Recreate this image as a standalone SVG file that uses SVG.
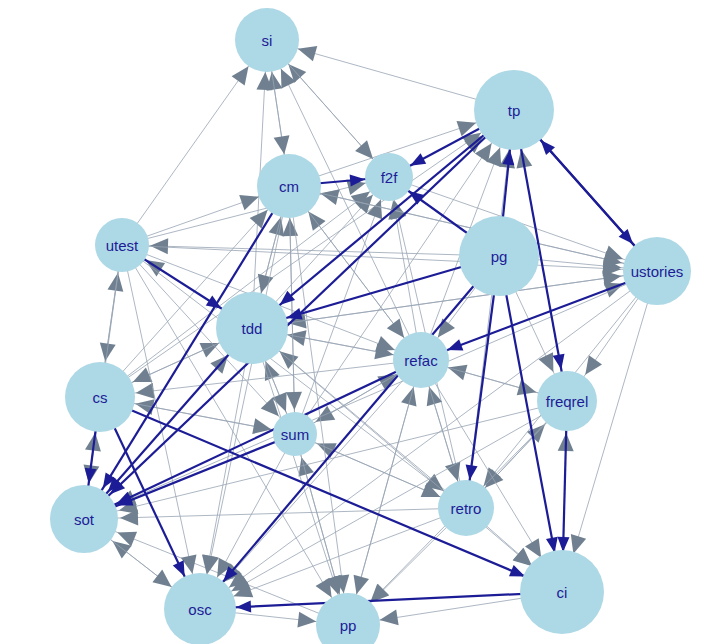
<svg xmlns="http://www.w3.org/2000/svg" width="710" height="644" viewBox="0 0 710 644">
<style>
.g{stroke:#98a4b4;stroke-width:0.8;fill:none}
.b{stroke:#1c1c96;stroke-width:2.2;fill:none}
.n{fill:#add8e6}
.t{font-family:"Liberation Sans",Arial,sans-serif;font-size:15px;fill:#1c1c96;text-anchor:middle;dominant-baseline:central}
</style>
<defs>
<marker id="g24" markerUnits="userSpaceOnUse" orient="auto" refX="42" refY="0" overflow="visible"><path d="M0,-8 L18,0 L0,8 z" fill="#708090"/></marker>
<marker id="g28" markerUnits="userSpaceOnUse" orient="auto" refX="46" refY="0" overflow="visible"><path d="M0,-8 L18,0 L0,8 z" fill="#708090"/></marker>
<marker id="g32" markerUnits="userSpaceOnUse" orient="auto" refX="50" refY="0" overflow="visible"><path d="M0,-8 L18,0 L0,8 z" fill="#708090"/></marker>
<marker id="g36" markerUnits="userSpaceOnUse" orient="auto" refX="54" refY="0" overflow="visible"><path d="M0,-8 L18,0 L0,8 z" fill="#708090"/></marker>
<marker id="g40" markerUnits="userSpaceOnUse" orient="auto" refX="58" refY="0" overflow="visible"><path d="M0,-8 L18,0 L0,8 z" fill="#708090"/></marker>
<marker id="b24" markerUnits="userSpaceOnUse" orient="auto" refX="39" refY="0" overflow="visible"><path d="M0,-6 L15,0 L0,6 z" fill="#1c1c96"/></marker>
<marker id="b28" markerUnits="userSpaceOnUse" orient="auto" refX="43" refY="0" overflow="visible"><path d="M0,-6 L15,0 L0,6 z" fill="#1c1c96"/></marker>
<marker id="b32" markerUnits="userSpaceOnUse" orient="auto" refX="47" refY="0" overflow="visible"><path d="M0,-6 L15,0 L0,6 z" fill="#1c1c96"/></marker>
<marker id="b36" markerUnits="userSpaceOnUse" orient="auto" refX="51" refY="0" overflow="visible"><path d="M0,-6 L15,0 L0,6 z" fill="#1c1c96"/></marker>
<marker id="b40" markerUnits="userSpaceOnUse" orient="auto" refX="55" refY="0" overflow="visible"><path d="M0,-6 L15,0 L0,6 z" fill="#1c1c96"/></marker>
</defs>
<rect width="710" height="644" fill="#fff"/>
<g id="connectors">
<!-- grey -->
<line class="g" x1="289" y1="186" x2="267" y2="40" marker-end="url(#g32)"/>
<line class="g" x1="389" y1="177" x2="267" y2="40" marker-end="url(#g32)"/>
<line class="g" x1="514" y1="110" x2="267" y2="40" marker-end="url(#g32)"/>
<line class="g" x1="122" y1="245" x2="267" y2="40" marker-end="url(#g32)"/>
<line class="g" x1="252" y1="328" x2="267" y2="40" marker-end="url(#g32)"/>
<line class="g" x1="421" y1="360" x2="267" y2="40" marker-end="url(#g32)"/>
<line class="g" x1="267" y1="40" x2="289" y2="186" marker-end="url(#g32)"/>
<line class="g" x1="267" y1="40" x2="389" y2="177" marker-end="url(#g24)"/>
<line class="g" x1="289" y1="186" x2="514" y2="110" marker-end="url(#g40)"/>
<line class="g" x1="421" y1="360" x2="514" y2="110" marker-end="url(#g40)"/>
<line class="g" x1="252" y1="328" x2="514" y2="110" marker-end="url(#g40)"/>
<line class="g" x1="295" y1="434" x2="514" y2="110" marker-end="url(#g40)"/>
<line class="g" x1="466" y1="508" x2="514" y2="110" marker-end="url(#g40)"/>
<line class="g" x1="567" y1="401" x2="514" y2="110" marker-end="url(#g40)"/>
<line class="g" x1="100" y1="397" x2="514" y2="110" marker-end="url(#g40)"/>
<line class="g" x1="122" y1="245" x2="389" y2="177" marker-end="url(#g24)"/>
<line class="g" x1="252" y1="328" x2="389" y2="177" marker-end="url(#g24)"/>
<line class="g" x1="421" y1="360" x2="389" y2="177" marker-end="url(#g24)"/>
<line class="g" x1="295" y1="434" x2="389" y2="177" marker-end="url(#g24)"/>
<line class="g" x1="466" y1="508" x2="389" y2="177" marker-end="url(#g24)"/>
<line class="g" x1="100" y1="397" x2="389" y2="177" marker-end="url(#g24)"/>
<line class="g" x1="122" y1="245" x2="289" y2="186" marker-end="url(#g32)"/>
<line class="g" x1="252" y1="328" x2="289" y2="186" marker-end="url(#g32)"/>
<line class="g" x1="421" y1="360" x2="289" y2="186" marker-end="url(#g32)"/>
<line class="g" x1="295" y1="434" x2="289" y2="186" marker-end="url(#g32)"/>
<line class="g" x1="100" y1="397" x2="289" y2="186" marker-end="url(#g32)"/>
<line class="g" x1="657" y1="271" x2="289" y2="186" marker-end="url(#g32)"/>
<line class="g" x1="100" y1="397" x2="122" y2="245" marker-end="url(#g28)"/>
<line class="g" x1="252" y1="328" x2="122" y2="245" marker-end="url(#g28)"/>
<line class="g" x1="499" y1="256" x2="122" y2="245" marker-end="url(#g28)"/>
<line class="g" x1="289" y1="186" x2="252" y2="328" marker-end="url(#g36)"/>
<line class="g" x1="421" y1="360" x2="252" y2="328" marker-end="url(#g36)"/>
<line class="g" x1="295" y1="434" x2="252" y2="328" marker-end="url(#g36)"/>
<line class="g" x1="100" y1="397" x2="252" y2="328" marker-end="url(#g36)"/>
<line class="g" x1="466" y1="508" x2="252" y2="328" marker-end="url(#g36)"/>
<line class="g" x1="657" y1="271" x2="252" y2="328" marker-end="url(#g36)"/>
<line class="g" x1="84" y1="519" x2="252" y2="328" marker-end="url(#g36)"/>
<line class="g" x1="289" y1="186" x2="421" y2="360" marker-end="url(#g28)"/>
<line class="g" x1="252" y1="328" x2="421" y2="360" marker-end="url(#g28)"/>
<line class="g" x1="567" y1="401" x2="421" y2="360" marker-end="url(#g28)"/>
<line class="g" x1="466" y1="508" x2="421" y2="360" marker-end="url(#g28)"/>
<line class="g" x1="295" y1="434" x2="421" y2="360" marker-end="url(#g28)"/>
<line class="g" x1="348" y1="625" x2="421" y2="360" marker-end="url(#g28)"/>
<line class="g" x1="122" y1="245" x2="421" y2="360" marker-end="url(#g28)"/>
<line class="g" x1="499" y1="256" x2="421" y2="360" marker-end="url(#g28)"/>
<line class="g" x1="122" y1="245" x2="657" y2="271" marker-end="url(#g36)"/>
<line class="g" x1="289" y1="186" x2="657" y2="271" marker-end="url(#g36)"/>
<line class="g" x1="389" y1="177" x2="657" y2="271" marker-end="url(#g36)"/>
<line class="g" x1="499" y1="256" x2="657" y2="271" marker-end="url(#g36)"/>
<line class="g" x1="421" y1="360" x2="657" y2="271" marker-end="url(#g36)"/>
<line class="g" x1="252" y1="328" x2="657" y2="271" marker-end="url(#g36)"/>
<line class="g" x1="657" y1="271" x2="567" y2="401" marker-end="url(#g32)"/>
<line class="g" x1="466" y1="508" x2="567" y2="401" marker-end="url(#g32)"/>
<line class="g" x1="421" y1="360" x2="567" y2="401" marker-end="url(#g32)"/>
<line class="g" x1="562" y1="592" x2="567" y2="401" marker-end="url(#g32)"/>
<line class="g" x1="499" y1="256" x2="567" y2="401" marker-end="url(#g32)"/>
<line class="g" x1="122" y1="245" x2="100" y2="397" marker-end="url(#g36)"/>
<line class="g" x1="252" y1="328" x2="100" y2="397" marker-end="url(#g36)"/>
<line class="g" x1="421" y1="360" x2="100" y2="397" marker-end="url(#g36)"/>
<line class="g" x1="295" y1="434" x2="100" y2="397" marker-end="url(#g36)"/>
<line class="g" x1="84" y1="519" x2="100" y2="397" marker-end="url(#g36)"/>
<line class="g" x1="252" y1="328" x2="295" y2="434" marker-end="url(#g24)"/>
<line class="g" x1="289" y1="186" x2="295" y2="434" marker-end="url(#g24)"/>
<line class="g" x1="100" y1="397" x2="295" y2="434" marker-end="url(#g24)"/>
<line class="g" x1="421" y1="360" x2="295" y2="434" marker-end="url(#g24)"/>
<line class="g" x1="466" y1="508" x2="295" y2="434" marker-end="url(#g24)"/>
<line class="g" x1="122" y1="245" x2="295" y2="434" marker-end="url(#g24)"/>
<line class="g" x1="348" y1="625" x2="295" y2="434" marker-end="url(#g24)"/>
<line class="g" x1="122" y1="245" x2="84" y2="519" marker-end="url(#g36)"/>
<line class="g" x1="200" y1="609" x2="84" y2="519" marker-end="url(#g36)"/>
<line class="g" x1="348" y1="625" x2="84" y2="519" marker-end="url(#g36)"/>
<line class="g" x1="466" y1="508" x2="84" y2="519" marker-end="url(#g36)"/>
<line class="g" x1="567" y1="401" x2="84" y2="519" marker-end="url(#g36)"/>
<line class="g" x1="657" y1="271" x2="84" y2="519" marker-end="url(#g36)"/>
<line class="g" x1="657" y1="271" x2="466" y2="508" marker-end="url(#g28)"/>
<line class="g" x1="567" y1="401" x2="466" y2="508" marker-end="url(#g28)"/>
<line class="g" x1="421" y1="360" x2="466" y2="508" marker-end="url(#g28)"/>
<line class="g" x1="122" y1="245" x2="466" y2="508" marker-end="url(#g28)"/>
<line class="g" x1="295" y1="434" x2="466" y2="508" marker-end="url(#g28)"/>
<line class="g" x1="466" y1="508" x2="562" y2="592" marker-end="url(#g40)"/>
<line class="g" x1="657" y1="271" x2="562" y2="592" marker-end="url(#g40)"/>
<line class="g" x1="421" y1="360" x2="562" y2="592" marker-end="url(#g40)"/>
<line class="g" x1="252" y1="328" x2="562" y2="592" marker-end="url(#g40)"/>
<line class="g" x1="84" y1="519" x2="200" y2="609" marker-end="url(#g36)"/>
<line class="g" x1="252" y1="328" x2="200" y2="609" marker-end="url(#g36)"/>
<line class="g" x1="295" y1="434" x2="200" y2="609" marker-end="url(#g36)"/>
<line class="g" x1="421" y1="360" x2="200" y2="609" marker-end="url(#g36)"/>
<line class="g" x1="289" y1="186" x2="200" y2="609" marker-end="url(#g36)"/>
<line class="g" x1="466" y1="508" x2="200" y2="609" marker-end="url(#g36)"/>
<line class="g" x1="122" y1="245" x2="200" y2="609" marker-end="url(#g36)"/>
<line class="g" x1="567" y1="401" x2="200" y2="609" marker-end="url(#g36)"/>
<line class="g" x1="657" y1="271" x2="200" y2="609" marker-end="url(#g36)"/>
<line class="g" x1="200" y1="609" x2="348" y2="625" marker-end="url(#g32)"/>
<line class="g" x1="295" y1="434" x2="348" y2="625" marker-end="url(#g32)"/>
<line class="g" x1="466" y1="508" x2="348" y2="625" marker-end="url(#g32)"/>
<line class="g" x1="252" y1="328" x2="348" y2="625" marker-end="url(#g32)"/>
<line class="g" x1="421" y1="360" x2="348" y2="625" marker-end="url(#g32)"/>
<line class="g" x1="289" y1="186" x2="348" y2="625" marker-end="url(#g32)"/>
<line class="g" x1="562" y1="592" x2="348" y2="625" marker-end="url(#g32)"/>
<line class="g" x1="567" y1="401" x2="348" y2="625" marker-end="url(#g32)"/>
<line class="g" x1="122" y1="245" x2="348" y2="625" marker-end="url(#g32)"/>
<!-- blue -->
<line class="b" x1="289" y1="186" x2="389" y2="177" marker-end="url(#b24)"/>
<line class="b" x1="514" y1="110" x2="389" y2="177" marker-end="url(#b24)"/>
<line class="b" x1="499" y1="256" x2="389" y2="177" marker-end="url(#b24)"/>
<line class="b" x1="499" y1="256" x2="514" y2="110" marker-end="url(#b40)"/>
<line class="b" x1="514" y1="110" x2="657" y2="271" marker-end="url(#b36)"/>
<line class="b" x1="657" y1="271" x2="514" y2="110" marker-end="url(#b40)"/>
<line class="b" x1="122" y1="245" x2="252" y2="328" marker-end="url(#b36)"/>
<line class="b" x1="499" y1="256" x2="252" y2="328" marker-end="url(#b36)"/>
<line class="b" x1="514" y1="110" x2="252" y2="328" marker-end="url(#b36)"/>
<line class="b" x1="289" y1="186" x2="84" y2="519" marker-end="url(#b36)"/>
<line class="b" x1="514" y1="110" x2="84" y2="519" marker-end="url(#b36)"/>
<line class="b" x1="252" y1="328" x2="84" y2="519" marker-end="url(#b36)"/>
<line class="b" x1="421" y1="360" x2="84" y2="519" marker-end="url(#b36)"/>
<line class="b" x1="100" y1="397" x2="84" y2="519" marker-end="url(#b36)"/>
<line class="b" x1="295" y1="434" x2="84" y2="519" marker-end="url(#b36)"/>
<line class="b" x1="499" y1="256" x2="466" y2="508" marker-end="url(#b28)"/>
<line class="b" x1="499" y1="256" x2="562" y2="592" marker-end="url(#b40)"/>
<line class="b" x1="514" y1="110" x2="567" y2="401" marker-end="url(#b32)"/>
<line class="b" x1="567" y1="401" x2="562" y2="592" marker-end="url(#b40)"/>
<line class="b" x1="100" y1="397" x2="200" y2="609" marker-end="url(#b36)"/>
<line class="b" x1="562" y1="592" x2="200" y2="609" marker-end="url(#b36)"/>
<line class="b" x1="100" y1="397" x2="562" y2="592" marker-end="url(#b40)"/>
<line class="b" x1="499" y1="256" x2="200" y2="609" marker-end="url(#b36)"/>
<line class="b" x1="657" y1="271" x2="421" y2="360" marker-end="url(#b28)"/>
</g>
<g id="si"><circle class="n" cx="267" cy="40" r="32"/><text class="t" x="267" y="40">si</text></g>
<g id="tp"><circle class="n" cx="514" cy="110" r="40"/><text class="t" x="514" y="110">tp</text></g>
<g id="f2f"><circle class="n" cx="389" cy="177" r="24"/><text class="t" x="389" y="177">f2f</text></g>
<g id="cm"><circle class="n" cx="289" cy="186" r="32"/><text class="t" x="289" y="186">cm</text></g>
<g id="pg"><circle class="n" cx="499" cy="256" r="40"/><text class="t" x="499" y="256">pg</text></g>
<g id="ustories"><circle class="n" cx="657" cy="271" r="34"/><text class="t" x="657" y="271">ustories</text></g>
<g id="utest"><circle class="n" cx="122" cy="245" r="27"/><text class="t" x="122" y="245">utest</text></g>
<g id="tdd"><circle class="n" cx="252" cy="328" r="36"/><text class="t" x="252" y="328">tdd</text></g>
<g id="refac"><circle class="n" cx="421" cy="360" r="28"/><text class="t" x="421" y="360">refac</text></g>
<g id="cs"><circle class="n" cx="100" cy="397" r="35"/><text class="t" x="100" y="397">cs</text></g>
<g id="freqrel"><circle class="n" cx="567" cy="401" r="30"/><text class="t" x="567" y="401">freqrel</text></g>
<g id="sum"><circle class="n" cx="295" cy="434" r="22"/><text class="t" x="295" y="434">sum</text></g>
<g id="retro"><circle class="n" cx="466" cy="508" r="28"/><text class="t" x="466" y="508">retro</text></g>
<g id="sot"><circle class="n" cx="84" cy="519" r="34"/><text class="t" x="84" y="519">sot</text></g>
<g id="ci"><circle class="n" cx="562" cy="592" r="42"/><text class="t" x="562" y="592">ci</text></g>
<g id="osc"><circle class="n" cx="200" cy="609" r="36"/><text class="t" x="200" y="609">osc</text></g>
<g id="pp"><circle class="n" cx="348" cy="625" r="32"/><text class="t" x="348" y="625">pp</text></g>
</svg>
